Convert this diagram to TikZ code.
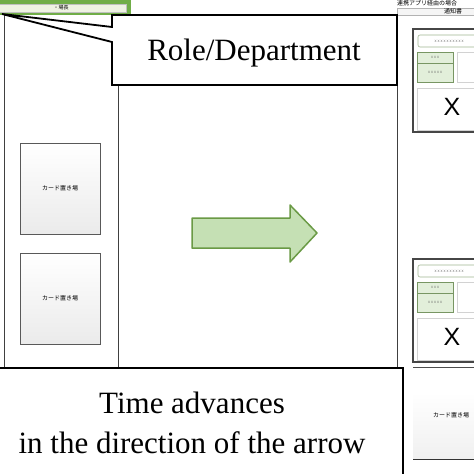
\documentclass[tikz,border=0pt]{standalone}
\usepackage{fontspec}
\setmainfont{Liberation Serif}
\newfontfamily\jpfont{Noto Sans CJK JP}
\newfontfamily\xfont{Liberation Sans}
\usetikzlibrary{calc}
\definecolor{framegreen}{RGB}{112,173,71}
\definecolor{barlight}{RGB}{238,242,226}
\definecolor{arrowgreen}{RGB}{197,224,180}
\definecolor{arrowedge}{RGB}{106,154,69}
\definecolor{cellgreen}{RGB}{226,239,218}
\colorlet{celledge}{framegreen!50!gray}

\tikzset{
  colline/.style={draw=black!75, line width=0.9},
  callout/.style={draw=black, line width=1.8, fill=white},
  slot/.style={draw=gray!70!black, line width=0.9, top color=white, bottom color=gray!16},
  slottext/.style={font=\jpfont\fontsize{6}{6}\selectfont},
  tinytext/.style={font=\jpfont\fontsize{3}{3}\selectfont, text=gray!70!black},
  headtext/.style={font=\jpfont\fontsize{6}{6}\selectfont},
  cell/.style={draw=gray!35, line width=0.6, fill=white},
  greencell/.style={draw=celledge, line width=0.6, fill=cellgreen},
}

\begin{document}
\begin{tikzpicture}[x=1pt, y=-1pt]
    \useasboundingbox (0,0) rectangle (474,474);
    \clip (0,0) rectangle (474,474);

    % column borders
    \draw[colline] (4,14) -- (4,474);
    \draw[colline] (118,85) -- (118,474);
    \draw[colline] (397,15) -- (397,474);

    % green header, top left
    \fill[framegreen] (-5,-5) rectangle (131,15);
    \draw[draw=gray!50, fill=barlight, line width=0.5] (-5,4) rectangle (126,12);
    \node[headtext, font=\jpfont\fontsize{5}{5}\selectfont] (chief) at (61,8) {・場長};

    % header, top right
    \node[headtext, anchor=west, inner sep=0] (linkcase) at (397,3) {連携アプリ経由の場合};
    \draw[draw=gray!60, fill=gray!8, line width=0.5] (397,8) rectangle (480,15);
    \node[headtext, inner sep=0] (notice) at (453,11.5) {通知書};

    % card slots, left column
    \node[slot, slottext, minimum width=80, minimum height=91] (slotA) at (60,188.5) {カード置き場};
    \node[slot, slottext, minimum width=80, minimum height=91] (slotB) at (60,298.5) {カード置き場};

    % big arrow
    \draw[arrowedge, fill=arrowgreen, line width=1.5, line join=round]
        (192,218) -- (290,218) -- (290,205) -- (317,233) -- (290,262) -- (290,248) -- (192,248) -- cycle;

    % cards, right column
    \foreach \dy in {0,230} {
      \begin{scope}[shift={(0,\dy)}]
        \draw[draw=gray!55!black, line width=2, fill=white] (413,29) rectangle (482,132);
        \draw[cell, draw=celledge!70, rounded corners=2] (418,35) rectangle (482,47);
        \node[tinytext] at (449,41) {ＸＸＸＸＸＸＸＸＸＸ};
        \draw[greencell] (417,52) rectangle (453,63);
        \node[tinytext] at (435,57.5) {ＸＸＸ};
        \draw[greencell] (417,63) rectangle (453,82);
        \node[tinytext] at (435,72.5) {ＸＸＸＸＸ};
        \draw[cell] (457,52) rectangle (482,82);
        \draw[cell] (417,88) rectangle (482,130);
        \node[font=\xfont\fontsize{25}{25}\selectfont] at (452,107) {X};
      \end{scope}
    }
    \draw[gray!60!black, line width=0.9] (413,367) -- (480,367);

    % card slot, bottom right
    \fill[top color=white, bottom color=gray!12] (413,392) rectangle (480,459);
    \draw[gray!40!black, line width=1] (413,459) -- (480,459);
    \node[slottext, anchor=west, inner sep=0] (slotC) at (433,415) {カード置き場};

    % callouts
    \draw[callout, line join=miter]
        (112,15) -- (397,15) -- (397,85) -- (112,85) -- (112,42) -- (2,14) -- (112,27) -- cycle;
    \node[font=\fontsize{31}{31}\selectfont, anchor=base] (role) at (254,60) {Role/Department};

    \draw[callout] (-5,368) rectangle (403,480);
    \node[font=\fontsize{31}{40}\selectfont, align=center] (time) at (192,423)
        {Time advances\\in the direction of the arrow};

\end{tikzpicture}
\end{document}
